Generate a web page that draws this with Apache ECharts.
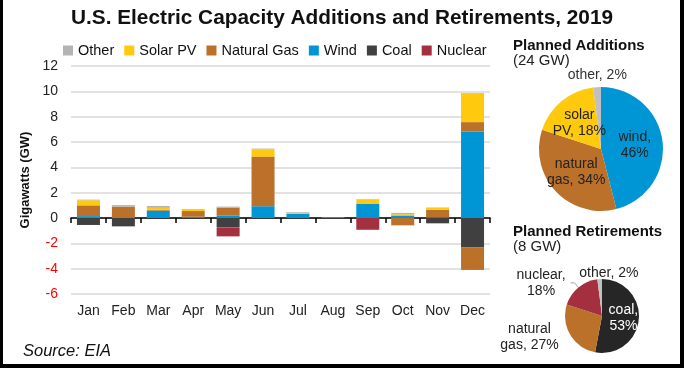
<!DOCTYPE html>
<html><head><meta charset="utf-8">
<script src="https://cdn.jsdelivr.net/npm/echarts@6/dist/echarts.min.js"></script>
<style>html,body{margin:0;padding:0;background:#fff}#c{width:684px;height:368px}</style>
</head><body><div id="c"></div>
<script>
var months = ['Jan','Feb','Mar','Apr','May','Jun','Jul','Aug','Sep','Oct','Nov','Dec'];
var wind    = [0.15, 0,    0.58, 0.10, 0.18, 0.93, 0.34, 0,    1.11, 0.20, 0.05, 6.83];
var gasAdd  = [0.85, 0.90, 0.07, 0.45, 0.64, 3.92, 0,    0,    0,    0,    0.60, 0.74];
var solar   = [0.40, 0,    0.15, 0.16, 0,    0.58, 0.08, 0,    0.32, 0.10, 0.15, 2.25];
var other   = [0.05, 0.12, 0.15, 0,    0.08, 0.05, 0.05, 0.04, 0.05, 0.10, 0.03, 0.05];
var coal    = [-0.55,-0.66, 0,   0,   -0.71, 0,    0,    0,    0,    0,   -0.42,-2.33];
var gasRet  = [0,    0,    0,    0,   -0.08, 0,    0,    0,    0,   -0.58, 0,   -1.77];
var nuclear = [0,    0,    0,    0,   -0.66, 0,    0,    0,   -0.93, 0,    0,    0];
var yTicks = {min: -6, max: 12, interval: 2};

var addNames = ['wind','natural gas','solar PV','other'];
var addPct = [46, 34, 18, 2];
var addText = ['wind,\n46%', 'natural\ngas, 34%', 'solar\nPV, 18%', 'other, 2%'];
var retNames = ['coal','natural gas','nuclear','other'];
var retPct = [53, 27, 18, 2];
var retText = ['coal,\n53%', 'natural\ngas, 27%', 'nuclear,\n18%', 'other, 2%'];

var C = {other:'#b4b4b4', solar:'#ffc90e', gas:'#bb712a', wind:'#0096d6', coal:'#404040', nuclear:'#a42f3e'};
var FONT = 'Liberation Sans, Arial, sans-serif';

function bar(name, data, color){
  return {type:'bar', name:name, data:data, stack:'s', barWidth:23, itemStyle:{color:color}, xAxisIndex:0};
}

var chart = echarts.init(document.getElementById('c'));
chart.setOption({
  animation:false,
  textStyle:{fontFamily:FONT},
  title:[
    {text:'U.S. Electric Capacity Additions and Retirements, 2019', left:'center', top:3,
     textStyle:{fontSize:20.8, fontWeight:'bold', color:'#111', fontFamily:FONT}},
    {text:'Source: EIA', left:18, top:338, textStyle:{fontSize:16.5, fontStyle:'italic', fontWeight:'normal', color:'#111', fontFamily:FONT}},
    {text:'Planned Additions', subtext:'(24 GW)', left:508, top:33, itemGap:0,
     textStyle:{fontSize:15, fontWeight:'bold', color:'#111', fontFamily:FONT},
     subtextStyle:{fontSize:15, color:'#222', fontFamily:FONT}},
    {text:'Planned Retirements', subtext:'(8 GW)', left:508, top:219, itemGap:0,
     textStyle:{fontSize:15, fontWeight:'bold', color:'#111', fontFamily:FONT},
     subtextStyle:{fontSize:15, color:'#222', fontFamily:FONT}}
  ],
  legend:{left:58, top:38, itemWidth:10, itemHeight:10, itemGap:10, icon:'rect',
    textStyle:{fontSize:14.5, color:'#111', fontFamily:FONT},
    data:['Other','Solar PV','Natural Gas','Wind','Coal','Nuclear']},
  grid:{left:71, right:194, top:66, bottom:74},
  xAxis:[
    {type:'category', data:months, position:'bottom', axisLine:{show:false, onZero:false}, axisTick:{show:false},
     axisLabel:{fontSize:14, color:'#222', margin:10}},
    {type:'category', data:months, position:'bottom', axisLine:{onZero:true, lineStyle:{color:'#000', width:1.5}},
     axisTick:{show:true, length:5, lineStyle:{color:'#000', width:1.5}}, axisLabel:{show:false}}
  ],
  yAxis:{type:'value', min:yTicks.min, max:yTicks.max, interval:yTicks.interval,
    name:'Gigawatts (GW)', nameLocation:'middle', nameGap:35,
    nameTextStyle:{fontSize:13, fontWeight:'bold', color:'#111', fontFamily:FONT},
    axisLine:{show:false}, axisTick:{show:false},
    axisLabel:{fontSize:14, margin:13, color:function(v){return v<0?'#ff0000':'#222';}},
    splitLine:{lineStyle:{color:'#d9d9d9', width:1.5}}},
  series:[
    bar('Wind', wind, C.wind),
    bar('Natural Gas', gasAdd, C.gas),
    bar('Solar PV', solar, C.solar),
    bar('Other', other, C.other),
    bar('Coal', coal, C.coal),
    bar('Natural Gas', gasRet, C.gas),
    bar('Nuclear', nuclear, C.nuclear),
    {type:'pie', center:[601,149], radius:62, startAngle:90, clockwise:true, avoidLabelOverlap:false,
     label:{fontSize:14, color:'#222', lineHeight:16, fontFamily:FONT},
     labelLine:{show:false, length:4, length2:0},
     labelLayout:function(p){ if(p.dataIndex===3) return {dx:35, dy:-8}; },
     data:addPct.map(function(v,i){
       return {name:addNames[i], value:v,
         itemStyle:{color:[C.wind,C.gas,C.solar,'#c0c0c0'][i]},
         label:{position: i===3?'outside':'inside', formatter:addText[i],
           color: i===3 ? '#333' : '#222'}};
     })},
    {type:'pie', center:[602,316], radius:37, startAngle:90, clockwise:true, avoidLabelOverlap:false,
     label:{fontSize:14, color:'#222', lineHeight:16, fontFamily:FONT},
     labelLine:{show:false, length:5, length2:3, lineStyle:{color:'#aaa'}},
     labelLayout:function(p){ if(p.dataIndex===3) return {dx:44, dy:-2}; },
     data:retPct.map(function(v,i){
       var isOut = i>0;
       return {name:retNames[i], value:v,
         itemStyle:{color:['#262626',C.gas,C.nuclear,'#c0c0c0'][i]},
         labelLine:{show: i===2, length: i===2?6:4, length2: i===2?4:(i===1?3:0)},
         label:{position: isOut?'outside':'inside',
           formatter: i===0 ? retText[i] : retText[i].split('\n').map(function(s){return '{c|'+s+'}';}).join('\n'),
           rich:{c:{align:'center', fontSize:14, lineHeight:16, color:'#222'}},
           color: i===0 ? '#fff' : '#222'}};
     })}
  ],
  graphic:[
    {type:'rect', shape:{x:0,y:0,width:3,height:368}, style:{fill:'#000'}},
    {type:'rect', shape:{x:680,y:0,width:4,height:368}, style:{fill:'#000'}},
    {type:'rect', shape:{x:0,y:364,width:684,height:4}, style:{fill:'#000'}}
  ]
});
</script></body></html>
